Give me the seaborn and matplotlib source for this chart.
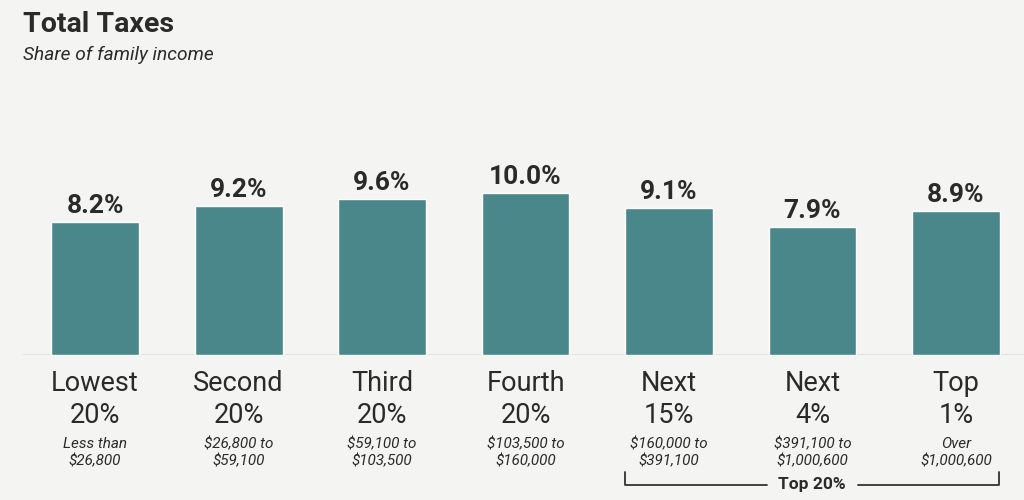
import matplotlib
matplotlib.use("Agg")
import matplotlib.pyplot as plt
import seaborn as sns
import pandas as pd

groups = ["Lowest\n20%", "Second\n20%", "Third\n20%", "Fourth\n20%", "Next\n15%", "Next\n4%", "Top\n1%"]
ranges = ["Less than\n$26,800", "$26,800 to\n$59,100", "$59,100 to\n$103,500", "$103,500 to\n$160,000",
          "$160,000 to\n$391,100", "$391,100 to\n$1,000,600", "Over\n$1,000,600"]
shares = [8.2, 9.2, 9.6, 10.0, 9.1, 7.9, 8.9]
value_labels = ["8.2%", "9.2%", "9.6%", "10.0%", "9.1%", "7.9%", "8.9%"]

BG = "#f4f4f2"
BAR = "#4a878a"
TXT = "#2a2a2a"

sns.set_theme(style="white")
plt.rcParams["font.family"] = ["Roboto", "DejaVu Sans"]

df = pd.DataFrame({"group": groups, "share": shares})

fig = plt.figure(figsize=(10.24, 5.0), dpi=100, facecolor=BG)
W, H = 1024, 500
# axes from x=23 to 1024 px; baseline y=355 px, top y=100 px
ax = fig.add_axes([23 / W, (H - 355) / H, (1024 - 23) / W, 255 / H])
ax.set_facecolor(BG)

sns.barplot(data=df, x="group", y="share", color=BAR, saturation=1, width=0.613, ax=ax)
ax.set_xlim(-0.502, 6.474)
ax.set_ylim(0, 255 / 16.2)

for s in ax.spines.values():
    s.set_visible(False)
ax.axhline(0, color="#e2e2e0", lw=2, zorder=0)
ax.set_xticks([])
ax.set_yticks([])
ax.set_xlabel("")
ax.set_ylabel("")

for i, (v, lab) in enumerate(zip(shares, value_labels)):
    ax.text(i, v + 0.25, lab, ha="center", va="bottom", fontsize=19, fontweight="bold", color=TXT)

for i, (g, r) in enumerate(zip(groups, ranges)):
    ax.annotate(g, xy=(i, 0), xycoords="data", xytext=(0, -11), textcoords="offset points",
                ha="center", va="top", fontsize=19.5, color=TXT, linespacing=1.22)
    ax.annotate(r, xy=(i, 0), xycoords="data", xytext=(0, -59), textcoords="offset points",
                ha="center", va="top", fontsize=11, style="italic", color=TXT, linespacing=1.28)

# Top 20% bracket
fig.lines.append(plt.Line2D([625 / W, 625 / W, 767 / W], [(H - 472) / H, (H - 485) / H, (H - 485) / H],
                            transform=fig.transFigure, color="#333333", lw=1.3))
fig.lines.append(plt.Line2D([858 / W, 999 / W, 999 / W], [(H - 485) / H, (H - 485) / H, (H - 472) / H],
                            transform=fig.transFigure, color="#333333", lw=1.3))
fig.text(812 / W, (H - 485) / H, "Top 20%", ha="center", va="center", fontsize=12.5, fontweight="bold", color=TXT)

fig.text(23 / W, (H - 11) / H, "Total Taxes", ha="left", va="top", fontsize=20.5, fontweight="bold", color=TXT)
fig.text(23 / W, (H - 46) / H, "Share of family income", ha="left", va="top", fontsize=13.8, style="italic", color=TXT)

fig.savefig("out.png", dpi=100, facecolor=BG)
